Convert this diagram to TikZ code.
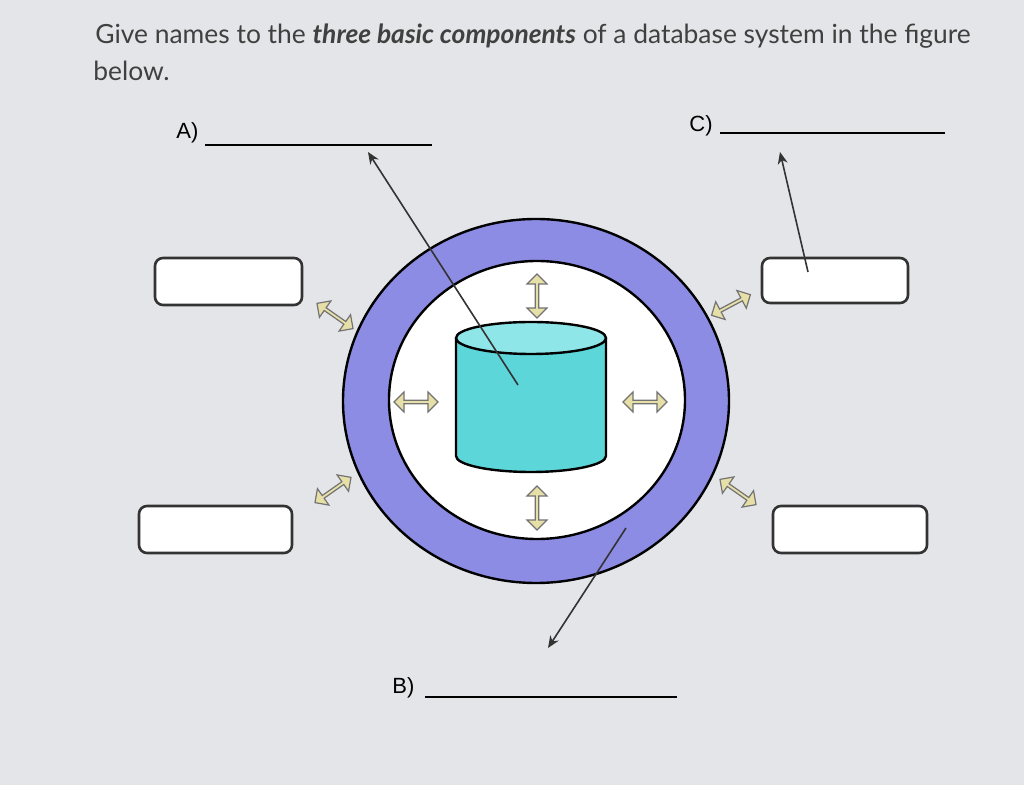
\documentclass[tikz,border=0pt]{standalone}
\usepackage{fontspec}
\setmainfont{Lato}
\newfontfamily\lblfont{Liberation Sans}
\usetikzlibrary{shapes.arrows,arrows.meta}
\definecolor{bg}{HTML}{E4E5E8}
\definecolor{ring}{HTML}{8C8CE4}
\definecolor{cyl}{HTML}{5CD6D8}
\definecolor{cyltop}{HTML}{8FE6E8}
\definecolor{khaki}{HTML}{E6DFA8}
\tikzset{
  blank/.style={draw=black!80,line width=1.3pt,rounded corners=4pt,fill=white},
  dbl/.style={double arrow,draw=black!55,fill=khaki,minimum height=22pt,minimum width=10pt,double arrow head extend=1.5pt,inner sep=0pt,line width=0.6pt},
  pointer/.style={draw=black!80,line width=0.8pt,-{Stealth[length=6pt,width=5pt]}},
  lbl/.style={font=\lblfont\fontsize{11}{13}\selectfont,anchor=west,inner sep=0pt},
  ansline/.style={draw=black,line width=0.9pt}
}
\begin{document}
\begin{tikzpicture}[x=0.5pt,y=-0.5pt]
\fill[bg] (0,0) rectangle (1024,785);
\useasboundingbox (0,0) rectangle (1024,785);
\node[anchor=west,inner sep=0pt,font=\fontsize{13.2}{15}\selectfont,text=black!75] (t1) at (95,36) {Give names to the \textbf{\textit{three basic components}} of a database system in the figure};
\node[anchor=west,inner sep=0pt,font=\fontsize{13.2}{15}\selectfont,text=black!75] (t2) at (93,71) {below.};
% labels
\node[lbl] (A) at (176,133) {A)};
\coordinate (Aend) at (432,145);
\draw[ansline] (205,145) -- (Aend);
\node[lbl] (C) at (689,126) {C)};
\draw[ansline] (720,133) -- (945,133);
\node[lbl] (B) at (392,688) {B)};
\draw[ansline] (425,697) -- (677,697);
% rings
\draw[fill=ring,line width=1.2pt] (536,401) ellipse (193 and 182);
\draw[fill=white,line width=1.2pt] (537,400) ellipse (148 and 139);
% cylinder
\draw[fill=cyl,line width=1.2pt] (456,338) -- (456,456) arc[start angle=180,end angle=0,x radius=75,y radius=16] -- (606,338);
\draw[fill=cyltop,line width=1.2pt] (531,338) ellipse (75 and 16);
\coordinate (dbpt) at (518,385);
% boxes
\draw[blank] (155,258) rectangle (302,305); \node (b1) at (228,281) {};
\draw[blank] (762,258) rectangle (908,303); \node (b2) at (835,281) {};
\draw[blank] (139,506) rectangle (292,553); \node (b3) at (215,530) {};
\draw[blank] (773,506) rectangle (927,553); \node (b4) at (850,530) {};
% double arrows
\node[dbl,rotate=-35] (d1) at (335,316) {};
\node[dbl,rotate=90] (d2) at (537,296) {};
\node[dbl] (d3) at (416,402) {};
\node[dbl] (d4) at (645,402) {};
\node[dbl,rotate=90] (d5) at (537,508) {};
\node[dbl,rotate=35] (d6) at (333,490) {};
\node[dbl,rotate=28] (d7) at (731,305) {};
\node[dbl,rotate=-35] (d8) at (738,492) {};
% pointers
\draw[pointer] (dbpt) -- (368,152);
\coordinate (cs) at (808,272);
\draw[pointer] (cs) -- (780,152);
\coordinate (bs) at (626,528);
\draw[pointer] (bs) -- (548,648);
\end{tikzpicture}
\end{document}
